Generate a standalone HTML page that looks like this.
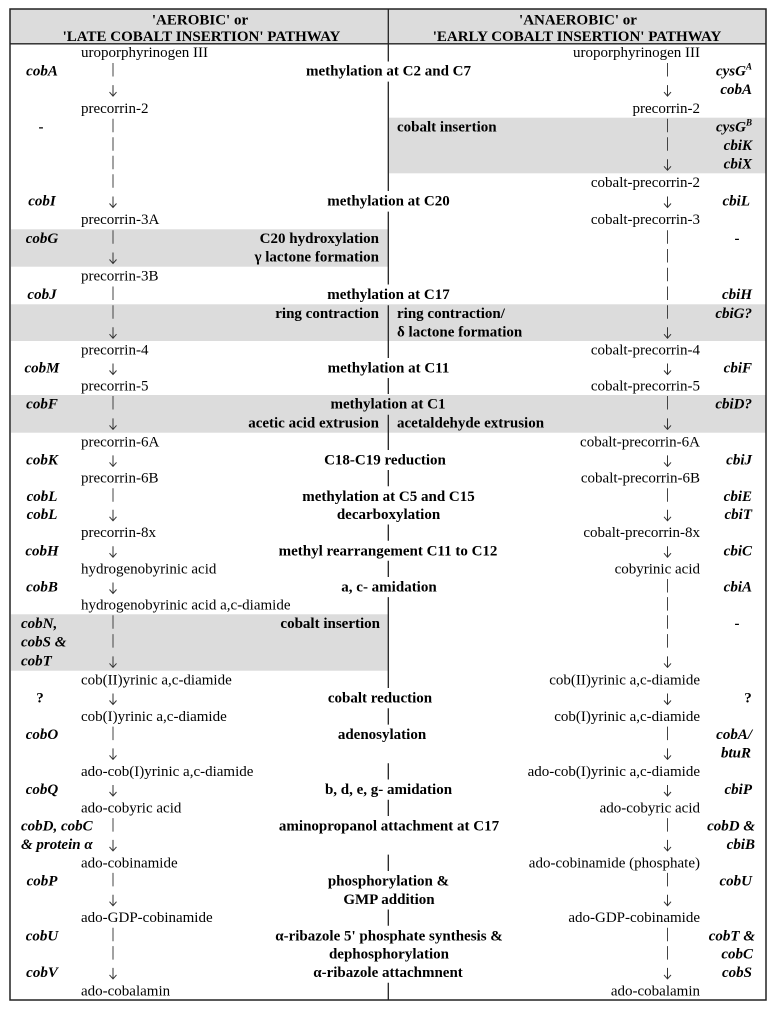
<!DOCTYPE html>
<html>
<head>
<meta charset="utf-8">
<style>
html,body{margin:0;padding:0;background:#fff;width:770px;height:1011px;overflow:hidden}
svg{display:block}
text{font-family:"Liberation Serif","DejaVu Serif",serif;font-size:15px;fill:#000}
.b{font-weight:bold}
.g{font-weight:bold;font-style:italic}
.m{text-anchor:middle}
.e{text-anchor:end}
</style>
</head>
<body>
<svg width="770" height="1011" viewBox="0 0 770 1011" xmlns="http://www.w3.org/2000/svg">
<rect x="0" y="0" width="770" height="1011" fill="#fff"/>
<!-- header background -->
<rect x="10" y="9" width="756" height="35" fill="#dcdcdc"/>
<!-- gray bands -->
<rect x="389" y="117.7" width="377" height="55.6" fill="#dcdcdc"/>
<rect x="11" y="229.3" width="377" height="37.4" fill="#dcdcdc"/>
<rect x="11" y="304.3" width="755" height="36.7" fill="#dcdcdc"/>
<rect x="11" y="395" width="755" height="37.7" fill="#dcdcdc"/>
<rect x="11" y="614.3" width="377" height="56.4" fill="#dcdcdc"/>

<!-- borders -->
<line x1="10" y1="43.8" x2="766" y2="43.8" stroke="#222" stroke-width="1.3"/>
<rect x="10" y="9" width="756" height="991" fill="none" stroke="#222" stroke-width="1.5"/>

<!-- center divider segments -->
<path fill="none" stroke="#222" stroke-width="1.3" d="M388.3,9V61.5M388.3,81.6V191M388.3,211.6V284.5M388.3,305.3V358M388.3,378V394M388.3,414.8V450M388.3,470V486.2M388.3,524.5V540.7M388.3,560.8V577M388.3,597.1V688M388.3,708.3V724.6M388.3,763.2V779.5M388.3,799.8V816M388.3,854.6V871M388.3,909.5V925.8M388.3,982.7V1000"/>

<!-- left path bars -->
<path fill="none" stroke="#444" stroke-width="1" d="M113,63V76.5M113,118.7V132.2M113,137.2V150.7M113,155.8V169.3M113,174.3V187.8M113,230.3V243.8M113,286.5V300M113,305.3V318.8M113,396V409.5M113,488.2V501.7M113,615.3V628.8M113,634.1V647.6M113,726.6V740.1M113,818.1V831.6M113,872.9V886.4M113,927.8V941.3M113,946.1V959.6"/>
<!-- left path arrows -->
<path fill="none" stroke="#333" stroke-width="1" d="M113,85.1V96.1M109.5,92.1L113,96.1L116.5,92.1M113,196.5V207.5M109.5,203.5L113,207.5L116.5,203.5M113,252.5V263.5M109.5,259.5L113,263.5L116.5,259.5M113,327.2V338.2M109.5,334.2L113,338.2L116.5,334.2M113,363.5V374.5M109.5,370.5L113,374.5L116.5,370.5M113,418.4V429.4M109.5,425.4L113,429.4L116.5,425.4M113,455.4V466.4M109.5,462.4L113,466.4L116.5,462.4M113,509.8V520.8M109.5,516.8L113,520.8L116.5,516.8M113,546.2V557.2M109.5,553.2L113,557.2L116.5,553.2M113,582.5V593.5M109.5,589.5L113,593.5L116.5,589.5M113,656.4V667.4M109.5,663.4L113,667.4L116.5,663.4M113,693.5V704.5M109.5,700.5L113,704.5L116.5,700.5M113,748.4V759.4M109.5,755.4L113,759.4L116.5,755.4M113,785V796M109.5,792L113,796L116.5,792M113,839.9V850.9M109.5,846.9L113,850.9L116.5,846.9M113,894.7V905.7M109.5,901.7L113,905.7L116.5,901.7M113,967.9V978.9M109.5,974.9L113,978.9L116.5,974.9"/>

<!-- right path bars -->
<path fill="none" stroke="#444" stroke-width="1" d="M667.5,63V76.5M667.5,118.7V132.2M667.5,137.2V150.7M667.5,230.3V243.8M667.5,249V262.5M667.5,267.7V281.2M667.5,286.5V300M667.5,305.3V318.8M667.5,396V409.5M667.5,488.2V501.7M667.5,579V592.5M667.5,597.1V610.6M667.5,615.3V628.8M667.5,634.1V647.6M667.5,726.6V740.1M667.5,818.1V831.6M667.5,872.9V886.4M667.5,927.8V941.3M667.5,946.1V959.6"/>
<!-- right path arrows -->
<path fill="none" stroke="#333" stroke-width="1" d="M667.5,85.1V96.1M664,92.1L667.5,96.1L671,92.1M667.5,159.3V170.3M664,166.3L667.5,170.3L671,166.3M667.5,196.5V207.5M664,203.5L667.5,207.5L671,203.5M667.5,327.2V338.2M664,334.2L667.5,338.2L671,334.2M667.5,363.5V374.5M664,370.5L667.5,374.5L671,370.5M667.5,418.4V429.4M664,425.4L667.5,429.4L671,425.4M667.5,455.4V466.4M664,462.4L667.5,466.4L671,462.4M667.5,509.8V520.8M664,516.8L667.5,520.8L671,516.8M667.5,546.2V557.2M664,553.2L667.5,557.2L671,553.2M667.5,656.4V667.4M664,663.4L667.5,667.4L671,663.4M667.5,693.5V704.5M664,700.5L667.5,704.5L671,700.5M667.5,748.4V759.4M664,755.4L667.5,759.4L671,755.4M667.5,785V796M664,792L667.5,796L671,792M667.5,839.9V850.9M664,846.9L667.5,850.9L671,846.9M667.5,894.7V905.7M664,901.7L667.5,905.7L671,901.7M667.5,967.9V978.9M664,974.9L667.5,978.9L671,974.9"/>

<!-- header text -->
<text class="b m" x="200" y="24.5">'AEROBIC' or</text>
<text class="b m" x="201.5" y="41">'LATE COBALT INSERTION' PATHWAY</text>
<text class="b m" x="578" y="24.5">'ANAEROBIC' or</text>
<text class="b m" x="577" y="41">'EARLY COBALT INSERTION' PATHWAY</text>

<!-- left genes -->
<text class="g m" x="42" y="75.7">cobA</text>
<text class="b m" x="41" y="131.3">-</text>
<text class="g m" x="42" y="205.6">cobI</text>
<text class="g m" x="42" y="242.9">cobG</text>
<text class="g m" x="42" y="299.1">cobJ</text>
<text class="g m" x="42" y="372.6">cobM</text>
<text class="g m" x="42" y="408.6">cobF</text>
<text class="g m" x="42" y="464.5">cobK</text>
<text class="g m" x="42" y="500.8">cobL</text>
<text class="g m" x="42" y="518.9">cobL</text>
<text class="g m" x="42" y="555.3">cobH</text>
<text class="g m" x="42" y="591.6">cobB</text>
<text class="g" x="21" y="627.9">cobN,</text>
<text class="g" x="21" y="646.7">cobS &amp;</text>
<text class="g" x="21" y="665.5">cobT</text>
<text class="b m" x="40" y="702.6">?</text>
<text class="g m" x="42" y="739.2">cobO</text>
<text class="g m" x="42" y="794.1">cobQ</text>
<text class="g" x="21" y="830.7">cobD, cobC</text>
<text class="g" x="21" y="849">&amp; protein α</text>
<text class="g m" x="42" y="885.5">cobP</text>
<text class="g m" x="42" y="940.4">cobU</text>
<text class="g m" x="42" y="977">cobV</text>

<!-- right genes -->
<text class="g e" x="752" y="75.7">cysG<tspan font-size="9" dy="-6">A</tspan></text>
<text class="g e" x="752" y="94.2">cobA</text>
<text class="g e" x="752" y="131.3">cysG<tspan font-size="9" dy="-6">B</tspan></text>
<text class="g e" x="752" y="149.8">cbiK</text>
<text class="g e" x="752" y="168.4">cbiX</text>
<text class="g e" x="750" y="205.6">cbiL</text>
<text class="b m" x="737" y="242.9">-</text>
<text class="g e" x="752" y="299.1">cbiH</text>
<text class="g e" x="752" y="317.9">cbiG?</text>
<text class="g e" x="752" y="372.6">cbiF</text>
<text class="g e" x="752" y="408.6">cbiD?</text>
<text class="g e" x="752" y="464.5">cbiJ</text>
<text class="g e" x="752" y="500.8">cbiE</text>
<text class="g e" x="752" y="518.9">cbiT</text>
<text class="g e" x="752" y="555.3">cbiC</text>
<text class="g e" x="752" y="591.6">cbiA</text>
<text class="b m" x="737" y="627.9">-</text>
<text class="b m" x="748" y="702.6">?</text>
<text class="g e" x="752" y="739.2">cobA/</text>
<text class="g e" x="751" y="757.5">btuR</text>
<text class="g e" x="752" y="794.1">cbiP</text>
<text class="g e" x="755" y="830.7">cobD &amp;</text>
<text class="g e" x="755" y="849">cbiB</text>
<text class="g e" x="752" y="885.5">cobU</text>
<text class="g e" x="755" y="940.4">cobT &amp;</text>
<text class="g e" x="753" y="958.7">cobC</text>
<text class="g e" x="752" y="977">cobS</text>

<!-- left pathway compounds -->
<text x="81" y="57.1">uroporphyrinogen III</text>
<text x="81" y="112.8">precorrin-2</text>
<text x="81" y="224.2">precorrin-3A</text>
<text x="81" y="280.3">precorrin-3B</text>
<text x="81" y="354.6">precorrin-4</text>
<text x="81" y="390.6">precorrin-5</text>
<text x="81" y="446.3">precorrin-6A</text>
<text x="81" y="482.6">precorrin-6B</text>
<text x="81" y="537.1">precorrin-8x</text>
<text x="81" y="573.4">hydrogenobyrinic acid</text>
<text x="81" y="609.7">hydrogenobyrinic acid a,c-diamide</text>
<text x="81" y="684.3">cob(II)yrinic a,c-diamide</text>
<text x="81" y="720.9">cob(I)yrinic a,c-diamide</text>
<text x="81" y="775.8">ado-cob(I)yrinic a,c-diamide</text>
<text x="81" y="812.4">ado-cobyric acid</text>
<text x="81" y="867.3">ado-cobinamide</text>
<text x="81" y="922.1">ado-GDP-cobinamide</text>
<text x="81" y="995.3">ado-cobalamin</text>

<!-- right pathway compounds -->
<text class="e" x="700" y="57.1">uroporphyrinogen III</text>
<text class="e" x="700" y="112.8">precorrin-2</text>
<text class="e" x="700" y="186.9">cobalt-precorrin-2</text>
<text class="e" x="700" y="224.2">cobalt-precorrin-3</text>
<text class="e" x="700" y="354.6">cobalt-precorrin-4</text>
<text class="e" x="700" y="390.6">cobalt-precorrin-5</text>
<text class="e" x="700" y="446.3">cobalt-precorrin-6A</text>
<text class="e" x="700" y="482.6">cobalt-precorrin-6B</text>
<text class="e" x="700" y="537.1">cobalt-precorrin-8x</text>
<text class="e" x="700" y="573.4">cobyrinic acid</text>
<text class="e" x="700" y="684.3">cob(II)yrinic a,c-diamide</text>
<text class="e" x="700" y="720.9">cob(I)yrinic a,c-diamide</text>
<text class="e" x="700" y="775.8">ado-cob(I)yrinic a,c-diamide</text>
<text class="e" x="700" y="812.4">ado-cobyric acid</text>
<text class="e" x="700" y="867.3">ado-cobinamide (phosphate)</text>
<text class="e" x="700" y="922.1">ado-GDP-cobinamide</text>
<text class="e" x="700" y="995.3">ado-cobalamin</text>

<!-- center reactions -->
<text class="b m" x="388.5" y="75.7">methylation at C2 and C7</text>
<text class="b" x="397" y="131.3">cobalt insertion</text>
<text class="b m" x="388.5" y="205.6">methylation at C20</text>
<text class="b e" x="379" y="242.9">C20 hydroxylation</text>
<text class="b e" x="379" y="261.6">γ lactone formation</text>
<text class="b m" x="388.5" y="299.1">methylation at C17</text>
<text class="b e" x="379" y="317.9">ring contraction</text>
<text class="b" x="397" y="317.9">ring contraction/</text>
<text class="b" x="397" y="336.3">δ lactone formation</text>
<text class="b m" x="388.5" y="372.6">methylation at C11</text>
<text class="b m" x="388" y="408.6">methylation at C1</text>
<text class="b e" x="379" y="427.5">acetic acid extrusion</text>
<text class="b" x="397" y="427.5">acetaldehyde extrusion</text>
<text class="b m" x="385" y="464.5">C18-C19 reduction</text>
<text class="b m" x="388.5" y="500.8">methylation at C5 and C15</text>
<text class="b m" x="388.5" y="518.9">decarboxylation</text>
<text class="b m" x="388" y="555.3">methyl rearrangement C11 to C12</text>
<text class="b m" x="389" y="591.6">a, c- amidation</text>
<text class="b e" x="380" y="627.9">cobalt insertion</text>
<text class="b m" x="380" y="702.6">cobalt reduction</text>
<text class="b m" x="382" y="739.2">adenosylation</text>
<text class="b m" x="388.5" y="794.1">b, d, e, g- amidation</text>
<text class="b m" x="389" y="830.7">aminopropanol attachment at C17</text>
<text class="b m" x="388.5" y="885.5">phosphorylation &amp;</text>
<text class="b m" x="389" y="903.8">GMP addition</text>
<text class="b m" x="389" y="940.4">α-ribazole 5' phosphate synthesis &amp;</text>
<text class="b m" x="389" y="958.7">dephosphorylation</text>
<text class="b m" x="388" y="977">α-ribazole attachmnent</text>
</svg>
</body>
</html>
